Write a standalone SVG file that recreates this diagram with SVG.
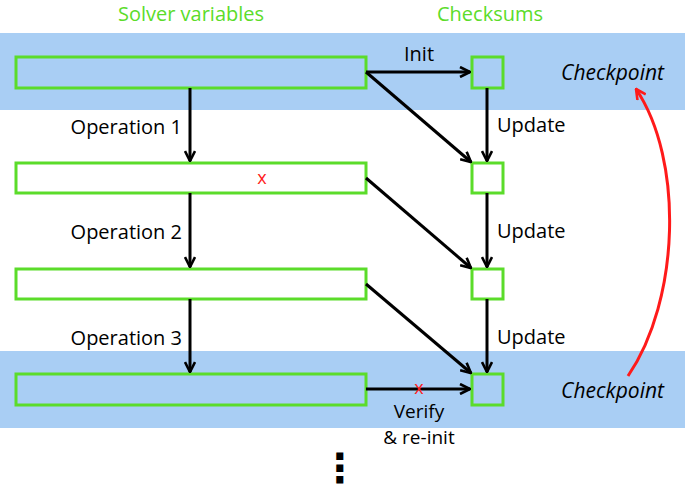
<svg xmlns="http://www.w3.org/2000/svg" width="685" height="492" viewBox="0 0 685 492">
<style>
.band{fill:#a9cef4}
.box{fill:none;stroke:#5bdc2a;stroke-width:3}
.con{stroke:#000;stroke-width:3;fill:none}
.lbl{font-family:"Open Sans","Liberation Sans",sans-serif;font-size:20px;fill:#000}
.hdr{font-family:"Open Sans","Liberation Sans",sans-serif;font-size:20px;fill:#5bdc2a}
.cp{font-family:"Open Sans","Liberation Sans",sans-serif;font-size:21px;font-style:italic;fill:#000}
.x{font-family:"Open Sans","Liberation Sans",sans-serif;font-size:18px;fill:#ff2020}
</style>
<defs>
<marker id="ah" viewBox="0 0 12 12" refX="11" refY="6" markerWidth="12" markerHeight="12" markerUnits="userSpaceOnUse" orient="auto">
<path d="M1,1 L11,6 L1,11" fill="none" stroke="#000" stroke-width="2.6"/>
</marker>
<marker id="ahr" viewBox="0 0 12 12" refX="11" refY="6" markerWidth="12" markerHeight="12" markerUnits="userSpaceOnUse" orient="auto">
<path d="M1,1 L11,6 L1,11" fill="none" stroke="#ff1a1a" stroke-width="2.6"/>
</marker>
</defs>
<rect class="band" x="0" y="33" width="685" height="77"/>
<rect class="band" x="0" y="351" width="685" height="77"/>
<text class="hdr" x="191" y="21" text-anchor="middle">Solver variables</text>
<text class="hdr" x="490" y="21" text-anchor="middle">Checksums</text>
<g id="v1"><rect class="box" x="16" y="57" width="350" height="31"/></g>
<g id="v2"><rect class="box" x="16" y="163" width="350" height="30"/><text class="x" x="262" y="184" text-anchor="middle">x</text></g>
<g id="v3"><rect class="box" x="16" y="269" width="350" height="30"/></g>
<g id="v4"><rect class="box" x="16" y="374" width="350" height="31"/></g>
<g id="c1"><rect class="box" x="472" y="57" width="31" height="31"/></g>
<g id="c2"><rect class="box" x="472" y="163" width="31" height="30"/></g>
<g id="c3"><rect class="box" x="472" y="269" width="31" height="30"/></g>
<g id="c4"><rect class="box" x="472" y="374" width="31" height="31"/></g>
<g id="connectors">
<line class="con" x1="190" y1="88" x2="190" y2="161" marker-end="url(#ah)"/>
<line class="con" x1="190" y1="193" x2="190" y2="267" marker-end="url(#ah)"/>
<line class="con" x1="190" y1="299" x2="190" y2="372" marker-end="url(#ah)"/>
<line class="con" x1="487" y1="88" x2="487" y2="161" marker-end="url(#ah)"/>
<line class="con" x1="487" y1="193" x2="487" y2="267" marker-end="url(#ah)"/>
<line class="con" x1="487" y1="299" x2="487" y2="372" marker-end="url(#ah)"/>
<line class="con" x1="366" y1="72" x2="470" y2="72" marker-end="url(#ah)"/>
<line class="con" x1="366" y1="72" x2="471" y2="162" marker-end="url(#ah)"/>
<line class="con" x1="366" y1="178" x2="471" y2="268" marker-end="url(#ah)"/>
<line class="con" x1="366" y1="284" x2="471" y2="373" marker-end="url(#ah)"/>
<line class="con" x1="366" y1="389" x2="470" y2="389" marker-end="url(#ah)"/>
<path d="M628,376 C680,300 684,160 636,89" fill="none" stroke="#ff1a1a" stroke-width="3" marker-end="url(#ahr)"/>
</g>
<text class="x" x="419" y="394" text-anchor="middle">x</text>
<text class="lbl" x="419" y="61" text-anchor="middle">Init</text>
<text class="lbl" x="182" y="134" text-anchor="end">Operation 1</text>
<text class="lbl" x="182" y="239" text-anchor="end">Operation 2</text>
<text class="lbl" x="182" y="345" text-anchor="end">Operation 3</text>
<text class="lbl" x="497" y="132">Update</text>
<text class="lbl" x="497" y="238">Update</text>
<text class="lbl" x="497" y="344">Update</text>
<text class="lbl" x="419" y="418" text-anchor="middle" style="font-size:19px">Verify</text>
<text class="lbl" x="419" y="444" text-anchor="middle" style="font-size:19px">&amp; re-init</text>
<text class="cp" x="664" y="80" text-anchor="end">Checkpoint</text>
<text class="cp" x="664" y="398" text-anchor="end">Checkpoint</text>
<text x="340" y="482" text-anchor="middle" style="font-family:'DejaVu Sans',sans-serif;font-size:40px;font-weight:bold;fill:#000">⋮</text>
</svg>
